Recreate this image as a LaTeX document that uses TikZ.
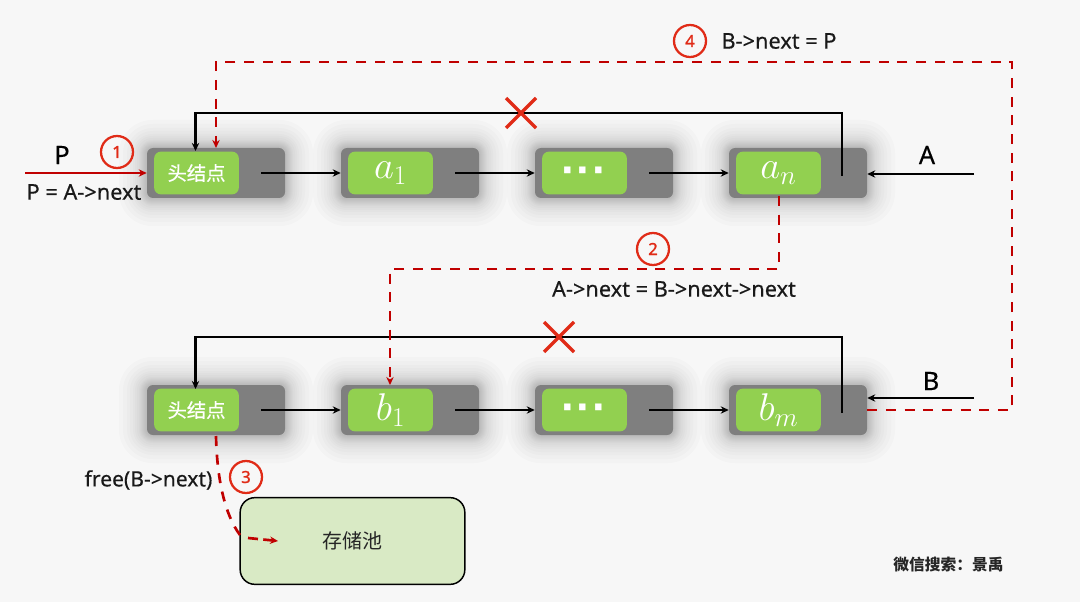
\RequirePackage{fix-cm}
\documentclass[tikz,border=0pt]{standalone}
\usepackage{fontspec}
\setmainfont{Noto Sans}
\newfontfamily\lblfont[FakeBold=0.4]{Noto Sans}
\newfontfamily\numfont[FakeBold=1.4]{Noto Sans}
\newfontfamily\cjk{Noto Sans CJK SC}
\newfontfamily\cjkhead[FakeBold=0.5]{Noto Sans CJK SC}
\newfontfamily\dotfont{Liberation Sans}
\usetikzlibrary{arrows.meta,calc}
\definecolor{bgc}{HTML}{F7F7F7}
\definecolor{boxgray}{HTML}{7F7F7F}
\definecolor{cellgreen}{HTML}{92D050}
\definecolor{poolgreen}{HTML}{D9EAC5}
\definecolor{dred}{HTML}{C00000}
\definecolor{cred}{HTML}{E02B17}
\tikzset{
  x=0.75pt,y=-0.75pt,
  outerbox/.style={fill=boxgray,rounded corners=4.5pt,minimum width=103.5pt,minimum height=37.5pt,inner sep=0pt},
  innerbox/.style={fill=cellgreen,rounded corners=5pt,minimum width=63.5pt,minimum height=32pt,inner sep=0pt,text=white},
  blk/.style={draw=black,line width=1.8pt,-{Stealth[length=6pt,width=5.5pt]}},
  redsolid/.style={draw=dred,line width=2pt,-{Stealth[length=6pt,width=5.5pt]}},
  reddash/.style={draw=dred,line width=2pt,dash pattern=on 7.5pt off 6.5pt,-{Stealth[length=6pt,width=5.5pt]}},
  stepnum/.style={circle,draw=cred,line width=1.7pt,minimum size=24pt,inner sep=0pt,text=cred,font=\numfont\fontsize{12.5}{14}\selectfont},
  lbl/.style={inner sep=0pt,font=\lblfont\fontsize{16.3}{20}\selectfont,text=black!90},
  biglbl/.style={inner sep=0pt,font=\lblfont\fontsize{19}{22}\selectfont,text=black},
  crossline/.style={draw=cred,line width=2.4pt},
  headtxt/.style={font=\cjkhead\fontsize{14.5}{16}\selectfont},
  mathtxt/.style={font=\fontsize{29}{32}\selectfont},
  dottxt/.style={font=\dotfont\bfseries\fontsize{34}{36}\selectfont},
}
\newcommand{\softshadow}[4]{% cx cy w h (px)
  \foreach \g in {1,2,3,4,5,6,7,8,10,12,14,17,20,24,28}{
    \fill[black,opacity=0.014,rounded corners={(\g*0.75+4)*1pt}]
      ({#1-#3/2-\g},{#2-#4/2-\g}) rectangle ({#1+#3/2+\g},{#2+#4/2+\g});
  }
}
\newcommand{\cell}[5]{% name cx cy textstyle text
  \softshadow{#2}{#3}{138}{50}
  \node[outerbox] (#1o) at (#2,#3) {};
  \node[innerbox,#4] (#1) at ({#2-19.5},#3) {#5};
  \coordinate (#1s) at ({#2+45},#3);
}
\newcommand{\threedots}{\raisebox{-9.5pt}[0pt][0pt]{···}}
\begin{document}
\begin{tikzpicture}
\useasboundingbox (0,0) rectangle (1080,602);
\fill[bgc] (0,0) rectangle (1080,602);

% cells, row 1
\cell{ah}{216}{173}{headtxt}{头结点}
\cell{ao}{410}{173}{mathtxt}{$a_1$}
\cell{ad}{604}{173}{dottxt}{\threedots}
\cell{an}{798}{173}{mathtxt}{$a_n$}
% cells, row 2
\cell{bh}{216}{410}{headtxt}{头结点}
\cell{bo}{410}{410}{mathtxt}{$b_1$}
\cell{bd}{604}{410}{dottxt}{\threedots}
\cell{bm}{798}{410}{mathtxt}{$b_m$}

% pool
\node[draw=black,line width=1.1pt,fill=poolgreen,rounded corners=11pt,minimum width=168.5pt,minimum height=65pt,inner sep=0pt] (pool) at (352.5,541) {\cjk\fontsize{15}{18}\selectfont\color{black!85}存储池};

% internal coordinates
\coordinate (pstart) at (25,173);
\coordinate (aend) at (974,174);
\coordinate (bend) at (974,398);
\coordinate (loopa) at (842,176);
\coordinate (loopb) at (842,413);
\coordinate (loopatop) at (842,113);
\coordinate (loopbtop) at (842,337);
\coordinate (heada) at (195.5,151);
\coordinate (headb) at (195.5,389);
\coordinate (r1) at (1012,410);
\coordinate (r2) at (1012,62);
\coordinate (r3) at (216,62);
\coordinate (headat) at (216,148);
\coordinate (an1) at (779,196);
\coordinate (an2) at (779,269);
\coordinate (an3) at (390,269);
\coordinate (bin) at (390,385);
\coordinate (fr1) at (216,436);
\coordinate (fr2) at (240,535);
\coordinate (fr3) at (248,538);
\coordinate (fr4) at (278,541);

% next arrows
\draw[blk] (ahs) -- (aoo.west);
\draw[blk] (aos) -- (ado.west);
\draw[blk] (ads) -- (ano.west);
\draw[blk] (bhs) -- (boo.west);
\draw[blk] (bos) -- (bdo.west);
\draw[blk] (bds) -- (bmo.west);
\draw[blk] (aend) -- (ano.east|-aend);
\draw[blk] (bend) -- (bmo.east|-bend);

% loops
\draw[blk] (loopa) -- (loopatop) -- (heada|-loopatop) -- (heada);
\draw[blk] (loopb) -- (loopbtop) -- (headb|-loopbtop) -- (headb);

% red
\draw[redsolid] (pstart) -- (aho.west);
\draw[reddash] (bmo.east) -- (r1) -- (r2) -- (r3) -- (headat);
\draw[reddash] (an1) -- (an2) -- (an3) -- (bin);
\draw[draw=dred,line width=2pt,dash pattern=on 7.5pt off 6.5pt] (fr1) .. controls (217,480) and (225,515) .. (fr2);
\draw[reddash,dash pattern=on 7.5pt off 4pt] (fr3) -- (fr4);

% crosses
\node[inner sep=0pt,minimum size=0pt] (xa) at (521,113) {};
\node[inner sep=0pt,minimum size=0pt] (xb) at (559,337) {};
\draw[crossline] ($(xa)+(-15,-15)$) -- ($(xa)+(15,15)$) ($(xa)+(-15,15)$) -- ($(xa)+(15,-15)$);
\draw[crossline] ($(xb)+(-15,-15)$) -- ($(xb)+(15,15)$) ($(xb)+(-15,15)$) -- ($(xb)+(15,-15)$);

% step numbers
\node[stepnum] (s1) at (117,152) {1};
\node[stepnum] (s2) at (653,249) {2};
\node[stepnum] (s3) at (246,477) {3};
\node[stepnum] (s4) at (690,41) {4};

% labels
\node[biglbl] (lp) at (62,155) {P};
\node[biglbl] (la) at (927,155) {A};
\node[biglbl] (lb) at (931,381) {B};
\node[lbl] (t1) at (84,192) {P = A->next};
\node[lbl] (t2) at (674,289) {A->next = B->next->next};
\node[lbl,font=\lblfont\fontsize{15.8}{20}\selectfont] (t3) at (148.5,480) {free(B->next)};
\node[lbl] (t4) at (779,41) {B->next = P};
\node[inner sep=0pt,text=black!85] (wm) at (948.5,565) {\cjk\bfseries\fontsize{11.8}{14}\selectfont 微信搜索：景禹};
\end{tikzpicture}
\end{document}
